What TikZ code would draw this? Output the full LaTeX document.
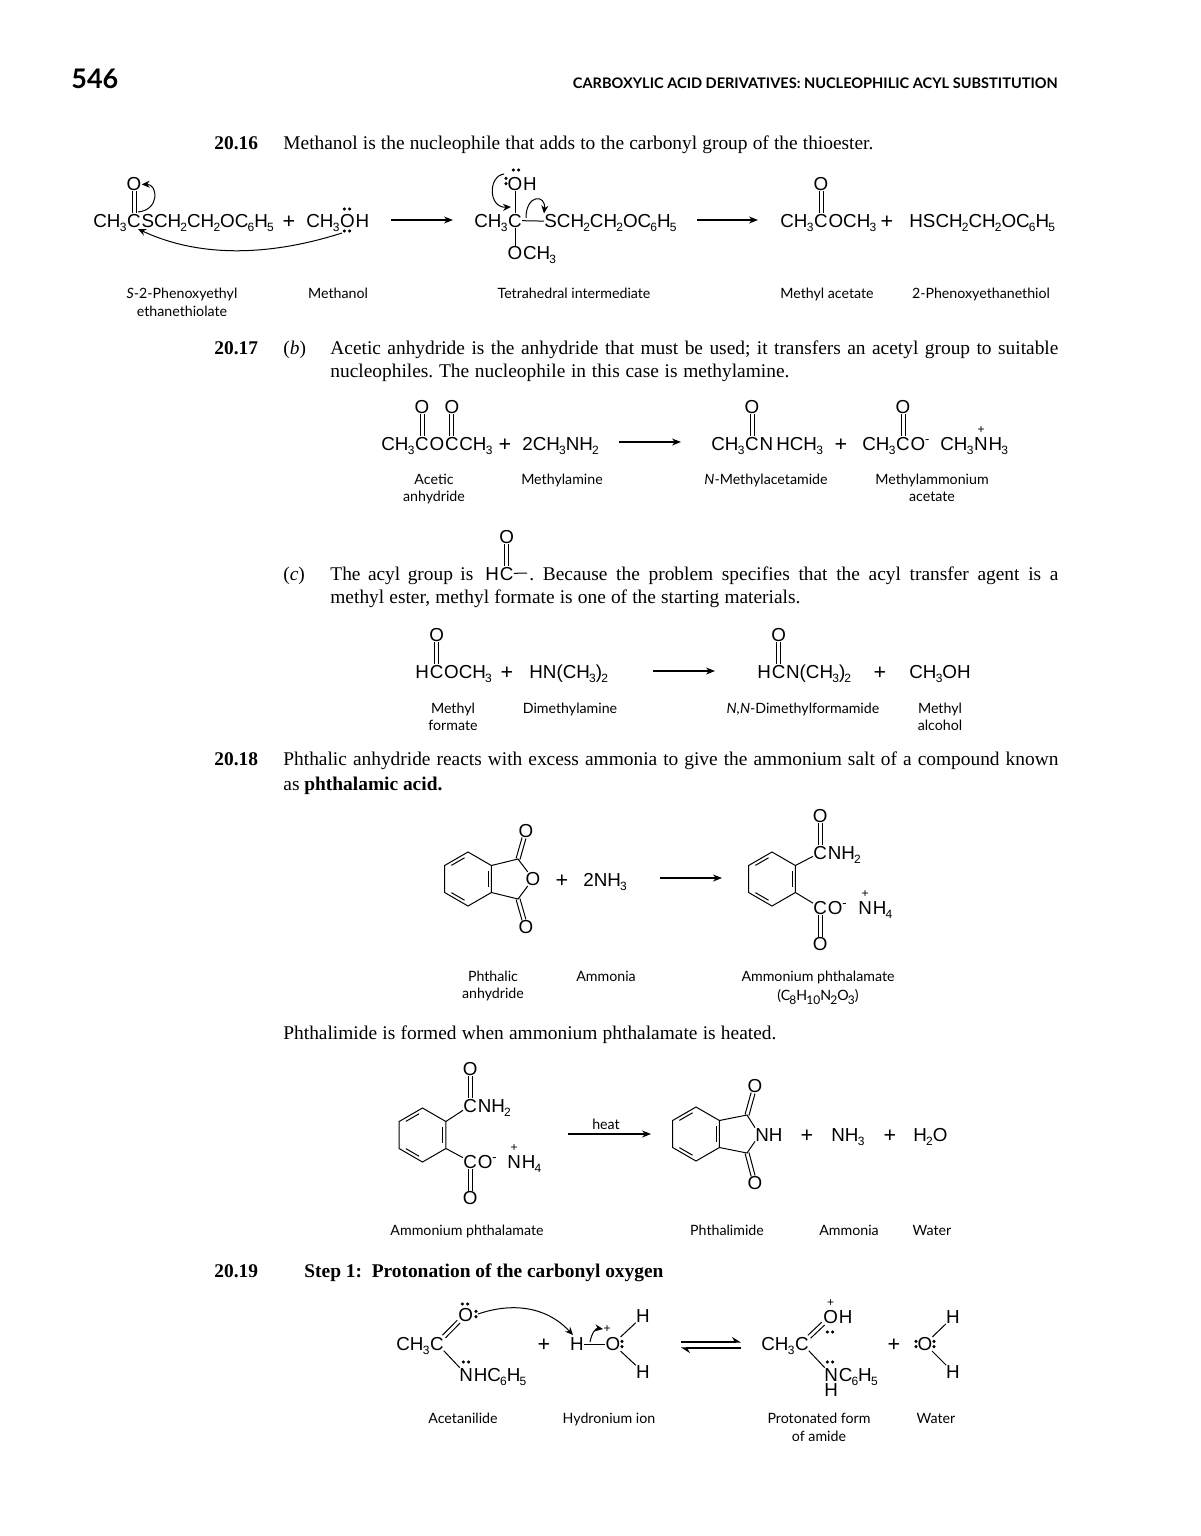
\documentclass[tikz,border=0pt]{standalone}
\usepackage{fontspec}
\setmainfont{Liberation Serif}
\newfontfamily\chemfam{Liberation Sans}
\newfontfamily\lblfam{Lato}
\usetikzlibrary{positioning,calc,arrows.meta}
\newcommand{\sbs}[1]{\kern-.4pt\raisebox{-2pt}{\fontsize{6}{6}\selectfont #1}}
\newcommand{\sps}[1]{\raisebox{3.5pt}{\fontsize{6.5}{6.5}\selectfont #1}}
\newcommand{\jline}[2]{\makebox[#1pt][s]{\frenchspacing #2}}
\tikzset{
  chem/.style={inner sep=0pt,anchor=base west,font=\chemfam\fontsize{9.4}{11}\selectfont},
  sign/.style={inner sep=0pt,anchor=center,font=\chemfam\fontsize{9.4}{11}\selectfont},
  plus/.style={inner sep=0pt,anchor=center,yshift=-1.2pt,font=\chemfam\fontsize{10.8}{11}\selectfont},
  small/.style={inner sep=0pt,font=\chemfam\fontsize{6}{6}\selectfont},
  lbl/.style={inner sep=0pt,anchor=base,font=\lblfam\fontsize{7.1}{8}\selectfont},
  txt/.style={inner sep=0pt,anchor=base west,font=\fontsize{9.7}{11}\selectfont},
  bond/.style={line width=.5pt},
  rxn/.style={line width=.55pt,-{Stealth[length=4.5pt,width=3.5pt]}},
  curly/.style={line width=.5pt,-{Stealth[length=4pt,width=3.5pt]}},
  harp/.style={line width=.55pt,-{Stealth[harpoon,length=4pt,width=5pt]}}
}
\newcommand{\lph}[2]{\fill (#1-2.6,#2) circle (.85pt) (#1+2.6,#2) circle (.85pt);}
\newcommand{\lpv}[2]{\fill (#1,#2-2.6) circle (.85pt) (#1,#2+2.6) circle (.85pt);}
\newcommand{\dbl}[2]{%
  \path (#1) -- (#2) coordinate[pos=0] (dblu) coordinate[pos=1] (dblv);
  \draw[bond] ($(dblu)!1pt!90:(dblv)$) -- ($(dblv)!1pt!-90:(dblu)$);
  \draw[bond] ($(dblu)!1pt!-90:(dblv)$) -- ($(dblv)!1pt!90:(dblu)$);
}
\newcommand{\phring}[3]{%
  \coordinate (#1c) at (#2,#3);
  \foreach \n/\dx/\dy in {1/0/-27,2/23.4/-13.5,3/23.4/13.5,4/0/27,5/-23.4/13.5,6/-23.4/-13.5}
    \coordinate (#1\n) at ($(#1c)+(\dx,\dy)$);
  \draw[bond] (#11)--(#12)--(#13)--(#14)--(#15)--(#16)--cycle;
  \draw[bond,shorten >=2pt,shorten <=2pt] ($(#12)!.14!(#1c)$)--($(#13)!.14!(#1c)$);
  \draw[bond,shorten >=2pt,shorten <=2pt] ($(#14)!.14!(#1c)$)--($(#15)!.14!(#1c)$);
  \draw[bond,shorten >=2pt,shorten <=2pt] ($(#16)!.14!(#1c)$)--($(#11)!.14!(#1c)$);
}
\begin{document}
\begin{tikzpicture}[x=.5pt,y=-.5pt]
\path[use as bounding box,fill=white] (0,0) rectangle (1200,1536);
% page head
\node[inner sep=0pt,anchor=base west,font=\lblfam\bfseries\fontsize{13.5}{14}\selectfont] (pageno) at (71,89) {546};
\node[inner sep=0pt,anchor=base east,font=\lblfam\bfseries\fontsize{7.28}{8}\selectfont] (pagehead) at (1058,89) {CARBOXYLIC ACID DERIVATIVES: NUCLEOPHILIC ACYL SUBSTITUTION};
% 20.16
\node[txt] (n16) at (214,149) {\bfseries 20.16};
\node[txt] (t16) at (283,149) {\jline{295}{Methanol is the nucleophile that adds to the carbonyl group of the thioester.}};
\node[chem] (me1) at (93,227) {CH\sbs3};
\node[chem,base right=0pt of me1] (c1) {C};
\node[chem,base right=0pt of c1] (s1) {SCH\sbs2CH\sbs2OC\sbs6H\sbs5};
\node[chem,above=11pt of c1] (o1) {O};
\dbl{o1}{c1}
\node[plus] (p1) at (289,220) {+};
\node[chem] (me1b) at (306,227) {CH\sbs3};
\node[chem,base right=0pt of me1b] (o1b) {O};
\node[chem,base right=0pt of o1b] (h1b) {H};
\lph{347}{209}\lph{347}{231}
\coordinate (k1a) at (138,212);
\draw[curly] (k1a) .. controls (160,210) and (158,184) .. (o1.east);
\coordinate (k1b) at (342,233);
\coordinate (k1c) at (138,229);
\draw[curly] (k1b) .. controls (270,256) and (200,258) .. (k1c);
\coordinate (a1s) at (391,220); \coordinate (a1e) at (453,220);
\draw[rxn] (a1s) -- (a1e);
\node[chem] (me2) at (474,227) {CH\sbs3};
\node[chem,base right=0pt of me2] (c2) {C};
\node[chem] (s2) at (544,227) {SCH\sbs2CH\sbs2OC\sbs6H\sbs5};
\node[chem,above=11pt of c2] (o2) {O};
\node[chem,base right=0pt of o2] (h2) {H};
\node[chem,below=9pt of c2] (o3) {O};
\node[chem,base right=0pt of o3] (ch3) {CH\sbs3};
\draw[bond] (o2) -- (c2);
\draw[bond] (c2) -- (s2);
\draw[bond] (c2) -- (o3);
\lph{516}{170}\lpv{506}{181}
\coordinate (k2a) at (504,174);
\coordinate (k2b) at (511,207);
\draw[curly] (k2a) .. controls (488,176) and (488,208) .. (k2b);
\coordinate (k2c) at (526,218);
\draw[curly] (k2c) .. controls (526,194) and (546,194) .. (s2.north west);
\coordinate (a2s) at (697,220); \coordinate (a2e) at (758,220);
\draw[rxn] (a2s) -- (a2e);
\node[chem] (me3) at (780,227) {CH\sbs3};
\node[chem,base right=0pt of me3] (c3) {C};
\node[chem,base right=0pt of c3] (e3) {OCH\sbs3};
\node[chem,above=11pt of c3] (o4) {O};
\dbl{o4}{c3}
\node[plus] (p2) at (887,220) {+};
\node[chem] (th) at (909,227) {HSCH\sbs2CH\sbs2OC\sbs6H\sbs5};
\node[lbl] (l1) at (182,298) {\textit{S}-2-Phenoxyethyl};
\node[lbl] (l1b) at (182,316) {ethanethiolate};
\node[lbl] (l2) at (338,298) {Methanol};
\node[lbl] (l3) at (574,298) {Tetrahedral intermediate};
\node[lbl] (l4) at (827,298) {Methyl acetate};
\node[lbl] (l5) at (981,298) {2-Phenoxyethanethiol};
% 20.17 b
\node[txt] (n17) at (214,354) {\bfseries 20.17};
\node[txt] (tb) at (283,354) {(\textit{b})};
\node[txt] (t17a) at (330,354) {\jline{364}{Acetic anhydride is the anhydride that must be used; it transfers an acetyl group to suitable}};
\node[txt] (t17b) at (330,377) {\jline{229.5}{nucleophiles. The nucleophile in this case is methylamine.}};
\node[chem] (me4) at (381,450) {CH\sbs3};
\node[chem,base right=0pt of me4] (c4) {C};
\node[chem,base right=0pt of c4] (o4m) {O};
\node[chem,base right=0pt of o4m] (c5) {C};
\node[chem,base right=0pt of c5] (me5) {CH\sbs3};
\node[chem,above=11pt of c4] (o5) {O};
\node[chem,above=11pt of c5] (o6) {O};
\dbl{o5}{c4}
\dbl{o6}{c5}
\node[plus] (p3) at (505,443) {+};
\node[chem] (ma) at (522,450) {2CH\sbs3NH\sbs2};
\coordinate (a3s) at (619,442); \coordinate (a3e) at (681,442);
\draw[rxn] (a3s) -- (a3e);
\node[chem] (me6) at (711,450) {CH\sbs3};
\node[chem,base right=0pt of me6] (c6) {C};
\node[chem,base right=0pt of c6] (nh6) {N\,HCH\sbs3};
\node[chem,above=11pt of c6] (o7) {O};
\dbl{o7}{c6}
\node[plus] (p4) at (841,443) {+};
\node[chem] (me7) at (862,450) {CH\sbs3};
\node[chem,base right=0pt of me7] (c7) {C};
\node[chem,base right=0pt of c7] (co7) {O\sps{-}};
\node[chem,above=11pt of c7] (o8) {O};
\dbl{o8}{c7}
\node[chem] (me8) at (940,450) {CH\sbs3};
\node[chem,base right=0pt of me8] (n8) {N};
\node[chem,base right=0pt of n8] (h8) {H\sbs3};
\node[small,above=1.5pt of n8] (q8) {+};
\node[lbl] (l6) at (434,484) {Acetic};
\node[lbl] (l6b) at (434,501) {anhydride};
\node[lbl] (l7) at (562,484) {Methylamine};
\node[lbl] (l8) at (766,484) {\textit{N}-Methylacetamide};
\node[lbl] (l9) at (932,484) {Methylammonium};
\node[lbl] (l9b) at (932,501) {acetate};
% 20.17 c
\node[txt] (tc) at (283,580) {(\textit{c})};
\node[txt] (t17c) at (330,580) {\jline{71.5}{The acyl group is}};
\node[chem] (h9) at (485,580) {H};
\node[chem,base right=0pt of h9] (c9) {C};
\node[chem,above=11pt of c9] (o9) {O};
\dbl{o9}{c9}
\coordinate (c9e) at (527,573);
\draw[bond] (c9) -- (c9e);
\node[txt] (t17d) at (529,580) {\jline{264.5}{. Because the problem specifies that the acyl transfer agent is a}};
\node[txt] (t17e) at (330,603) {\jline{235}{methyl ester, methyl formate is one of the starting materials.}};
\node[chem] (h10) at (415,678) {H};
\node[chem,base right=0pt of h10] (c10) {C};
\node[chem,base right=0pt of c10] (e10) {OCH\sbs3};
\node[chem,above=11pt of c10] (o10) {O};
\dbl{o10}{c10}
\node[plus] (p5) at (507,671) {+};
\node[chem] (dm) at (529,678) {HN(CH\sbs3)\sbs2};
\coordinate (a4s) at (653,671); \coordinate (a4e) at (715,671);
\draw[rxn] (a4s) -- (a4e);
\node[chem] (h11) at (757,678) {H};
\node[chem,base right=0pt of h11] (c11) {C};
\node[chem,base right=0pt of c11] (n11) {N(CH\sbs3)\sbs2};
\node[chem,above=11pt of c11] (o11) {O};
\dbl{o11}{c11}
\node[plus] (p6) at (880,671) {+};
\node[chem] (mo) at (909,678) {CH\sbs3OH};
\node[lbl] (l10) at (453,713) {Methyl};
\node[lbl] (l10b) at (453,730) {formate};
\node[lbl] (l11) at (570,713) {Dimethylamine};
\node[lbl] (l12) at (803,713) {\textit{N,N}-Dimethylformamide};
\node[lbl] (l13) at (940,713) {Methyl};
\node[lbl] (l13b) at (940,730) {alcohol};
% 20.18
\node[txt] (n18) at (214,765) {\bfseries 20.18};
\node[txt] (t18a) at (283,765) {\jline{387.5}{Phthalic anhydride reacts with excess ammonia to give the ammonium salt of a compound known}};
\node[txt] (t18b) at (283,790) {as \bfseries phthalamic acid.};
\phring{pa}{468}{879}
\coordinate (pac1) at (518,859);
\coordinate (pac2) at (518,899);
\node[sign] (pao1) at (526,831) {O};
\node[sign] (pao2) at (533,879) {O};
\node[sign] (pao3) at (526,927) {O};
\draw[bond] (pa2) -- (pac1) -- (pao2) -- (pac2) -- (pa3);
\dbl{pao1}{pac1}
\dbl{pao3}{pac2}
\node[plus] (p7) at (562,879) {+};
\node[chem] (am) at (583,886) {2NH\sbs3};
\coordinate (a5s) at (660,878); \coordinate (a5e) at (722,878);
\draw[rxn] (a5s) -- (a5e);
\phring{pb}{772}{879}
\node[chem] (cb1) at (813,859) {C};
\node[chem,base right=0pt of cb1] (nb1) {NH\sbs2};
\node[chem,above=11pt of cb1] (ob1) {O};
\node[chem] (cb2) at (813,914) {C};
\node[chem,base right=0pt of cb2] (ob2) {O\sps{-}};
\node[chem,below=11pt of cb2] (ob3) {O};
\draw[bond] (pb2) -- (cb1);
\draw[bond] (pb3) -- (cb2);
\dbl{ob1}{cb1}
\dbl{ob3}{cb2}
\node[chem] (nb2) at (858,914) {N};
\node[chem,base right=0pt of nb2] (hb2) {H\sbs4};
\node[small,above=1.5pt of nb2] (qb2) {+};
\node[lbl] (l14) at (493,981) {Phthalic};
\node[lbl] (l14b) at (493,998) {anhydride};
\node[lbl] (l15) at (606,981) {Ammonia};
\node[lbl] (l16) at (818,981) {Ammonium phthalamate};
\node[lbl] (l16b) at (818,1000) {(C\sbs8H\sbs{10}N\sbs2O\sbs3)};
\node[txt] (t18c) at (283,1039) {\jline{246.5}{Phthalimide is formed when ammonium phthalamate is heated.}};
\phring{pd}{422.5}{1135}
\node[chem] (cd1) at (463,1112) {C};
\node[chem,base right=0pt of cd1] (nd1) {NH\sbs2};
\node[chem,above=11pt of cd1] (od1) {O};
\node[chem] (cd2) at (463,1168) {C};
\node[chem,base right=0pt of cd2] (od2) {O\sps{-}};
\node[chem,below=11pt of cd2] (od3) {O};
\draw[bond] (pd2) -- (cd1);
\draw[bond] (pd3) -- (cd2);
\dbl{od1}{cd1}
\dbl{od3}{cd2}
\node[chem] (nd2) at (507,1168) {N};
\node[chem,base right=0pt of nd2] (hd2) {H\sbs4};
\node[small,above=1.5pt of nd2] (qd2) {+};
\coordinate (a6s) at (568,1134); \coordinate (a6e) at (651,1134);
\draw[rxn] (a6s) -- (a6e);
\node[lbl] (heat) at (606,1129) {heat};
\phring{pe}{696}{1134}
\coordinate (pec1) at (747,1115);
\coordinate (pec2) at (747,1153);
\node[sign] (peo1) at (755,1086) {O};
\node[sign] (peo3) at (755,1183) {O};
\node[chem] (pen) at (755,1141) {NH};
\draw[bond] (pe2) -- (pec1) -- (pen.north west);
\draw[bond] (pe3) -- (pec2) -- (pen.south west);
\dbl{peo1}{pec1}
\dbl{peo3}{pec2}
\node[plus] (p8) at (807,1134) {+};
\node[chem] (nh3) at (831,1141) {NH\sbs3};
\node[plus] (p9) at (890,1134) {+};
\node[chem] (h2o) at (913,1141) {H\sbs2O};
\node[lbl] (l17) at (467,1235) {Ammonium phthalamate};
\node[lbl] (l18) at (727,1235) {Phthalimide};
\node[lbl] (l19) at (849,1235) {Ammonia};
\node[lbl] (l20) at (932,1235) {Water};
% 20.19
\node[txt] (n19) at (214,1277) {\bfseries 20.19};
\node[txt] (step1) at (304,1277) {\bfseries Step 1:\ \ Protonation of the carbonyl oxygen};
\node[chem] (mf) at (396,1350) {CH\sbs3};
\node[chem,base right=0pt of mf] (cf) {C};
\node[chem] (of) at (458,1321) {O};
\node[chem] (nf) at (459,1381) {N};
\node[chem,base right=0pt of nf] (hf) {HC\sbs6H\sbs5};
\dbl{cf}{of}
\draw[bond] (cf) -- (nf);
\lph{465}{1304}\lpv{476}{1314}\lph{466}{1362}
\node[plus] (p10) at (544,1343) {+};
\node[sign] (hg1) at (577,1344) {H};
\node[sign] (og) at (613,1344) {O};
\node[sign] (hg2) at (643,1316) {H};
\node[sign] (hg3) at (643,1372) {H};
\draw[bond] (hg1) -- (og);
\draw[bond] (og) -- (hg2);
\draw[bond] (og) -- (hg3);
\lpv{622}{1344}
\node[small] (qg) at (607,1329) {+};
\coordinate (k3a) at (478,1314);
\coordinate (k3b) at (573,1335);
\draw[curly] (k3a) .. controls (510,1303) and (545,1305) .. (k3b);
\coordinate (k4a) at (590,1342);
\coordinate (k4b) at (603,1329);
\draw[curly] (k4a) .. controls (592,1332) and (596,1328) .. (k4b);
\coordinate (a7s) at (681,1342); \coordinate (a7e) at (741,1342);
\coordinate (a8s) at (741,1348); \coordinate (a8e) at (681,1348);
\draw[harp] (a7s) -- (a7e);
\draw[harp] (a8s) -- (a8e);
\node[chem] (mh) at (761,1350) {CH\sbs3};
\node[chem,base right=0pt of mh] (ch) {C};
\node[chem] (oh) at (823,1323) {O};
\node[chem,base right=0pt of oh] (hh) {H};
\node[small,above=1.5pt of oh] (qh) {+};
\node[chem] (nh) at (824,1381) {N};
\node[chem,base right=0pt of nh] (rh) {C\sbs6H\sbs5};
\node[chem,below=1pt of nh] (hn) {H};
\dbl{ch}{oh}
\draw[bond] (ch) -- (nh);
\lph{830}{1332}\lph{830}{1362}
\node[plus] (p11) at (894,1343) {+};
\node[sign] (oi) at (925,1344) {O};
\node[sign] (hi1) at (953,1317) {H};
\node[sign] (hi2) at (953,1372) {H};
\draw[bond] (oi) -- (hi1);
\draw[bond] (oi) -- (hi2);
\lpv{916}{1344}\lpv{934}{1344}
\node[lbl] (l21) at (463,1423) {Acetanilide};
\node[lbl] (l22) at (609,1423) {Hydronium ion};
\node[lbl] (l23) at (819,1423) {Protonated form};
\node[lbl] (l23b) at (819,1441) {of amide};
\node[lbl] (l24) at (936,1423) {Water};
\end{tikzpicture}
\end{document}
